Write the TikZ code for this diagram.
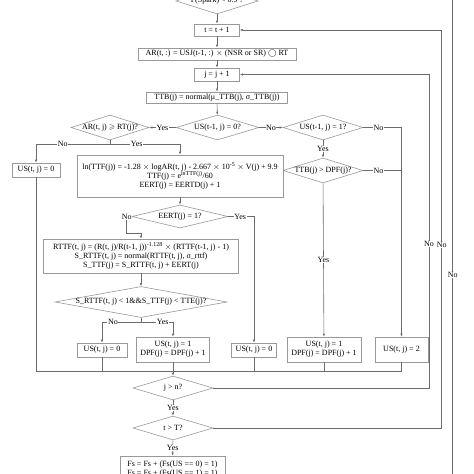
\documentclass[tikz,border=0pt]{standalone}
\usepackage{fontspec}
\setmainfont{Liberation Serif}
\usepackage{amssymb}
\usetikzlibrary{positioning,arrows.meta,shapes.geometric}

\definecolor{linegray}{gray}{0.42}
\definecolor{boxgray}{gray}{0.6}
\newcommand{\flowfont}{\fontsize{8}{9}\selectfont}

\begin{document}
\begin{tikzpicture}[x=1pt, y=-1pt,
    proc/.style={draw=boxgray, fill=white, inner sep=1pt, align=center, font=\flowfont, line width=0.6pt},
    test/.style={diamond, draw=boxgray, fill=white, inner sep=0pt, line width=0.6pt, label={[font=\flowfont]center:#1}},
    flow/.style={draw=linegray, line width=0.6pt, -{Latex[length=3pt, width=2.4pt]}},
    wire/.style={draw=linegray, line width=0.6pt},
    lbl/.style={fill=white, inner sep=0.6pt, font=\flowfont},
]
\useasboundingbox (0,0) rectangle (474,474);
\clip (0,0) rectangle (474,474);

% main column
\node[test={P(Spark) < 0.9 ?}, minimum width=82pt, minimum height=26pt] (spark) at (217,1) {};
\node[proc, minimum width=45pt, minimum height=12pt] (tt) at (217,30) {t = t + 1};
\node[proc, minimum width=158pt, minimum height=12pt] (ar) at (217,54) {AR(t, :) = USJ(t-1, :) $\times$ (NSR or SR) $\bigcirc$ RT};
\node[proc, minimum width=45pt, minimum height=13pt] (jj) at (217,74.5) {j = j + 1};
\node[proc, minimum width=141pt, minimum height=11pt] (ttb) at (217,97.5) {TTB(j) = normal(μ\_TTB(j), σ\_TTB(j))};

% state checks
\node[test={AR(t, j) $\geqslant$ RT(j)?}, minimum width=78pt, minimum height=25pt] (chkrt) at (110,127.5) {};
\node[test={US(t-1, j) = 0?}, minimum width=83pt, minimum height=25pt] (chk0) at (217.5,127.5) {};
\node[test={US(t-1, j) = 1?}, minimum width=80pt, minimum height=25pt] (chk1) at (323,127.5) {};
\node[test={TTB(j) > DPF(j)?}, minimum width=80pt, minimum height=25pt] (chkdpf) at (323,170.5) {};

\node[proc, minimum width=48pt, minimum height=14pt] (usa) at (36,170) {US(t, j) = 0};
\node[proc, minimum width=206pt, minimum height=42pt] (ttf) at (180,176) {ln(TTF(j)) = -1.28 $\times$ logAR(t, j) - 2.667 $\times$ 10\textsuperscript{-5} $\times$ V(j) + 9.9\\ TTF(j) = e\textsuperscript{lnTTF(j)}/60\\ EERT(j) = EERTD(j) + 1};
\node[test={EERT(j) = 1?}, minimum width=96pt, minimum height=23pt] (chkeert) at (180,216.5) {};
\node[proc, minimum width=195pt, minimum height=34pt] (rttf) at (141,256) {RTTF(t, j) = (R(t, j)/R(t-1, j))\textsuperscript{-1.128} $\times$ (RTTF(t-1, j) - 1)\\ S\_RTTF(t, j) = normal(RTTF(t, j), σ\_rttf)\\ S\_TTF(j) = S\_RTTF(t, j) + EERT(j)};
\node[test={S\_RTTF(t, j) < 1\&\&S\_TTF(j) < TTE(j)?}, minimum width=172pt, minimum height=31pt] (chkrisk) at (141,302) {};

% new states
\node[proc, minimum width=50pt, minimum height=14pt] (usb) at (102,350) {US(t, j) = 0};
\node[proc, minimum width=73pt, minimum height=25pt] (usc) at (173,349.5) {US(t, j) = 1\\ DPF(j) = DPF(j) + 1};
\node[proc, minimum width=45pt, minimum height=14pt] (usd) at (254,350) {US(t, j) = 0};
\node[proc, minimum width=74pt, minimum height=25pt] (use) at (324,349.5) {US(t, j) = 1\\ DPF(j) = DPF(j) + 1};
\node[proc, minimum width=53pt, minimum height=25pt] (usf) at (401.5,349.5) {US(t, j) = 2};

\node[test={j > n?}, minimum width=80pt, minimum height=24pt] (chkj) at (173,388) {};
\node[test={t > T?}, minimum width=80pt, minimum height=24pt] (chkt) at (173,428) {};
\node[proc, minimum width=105pt, minimum height=26pt] (fs) at (172.5,469) {Fs = Fs + (Fs(US == 0) = 1)\\ Fs = Fs + (Fs(US == 1) = 1)};

\coordinate (merge) at (173,371);
\coordinate (rdpf) at (401.5,0);
\coordinate (rj) at (429,0);
\coordinate (rt) at (441.7,0);
\coordinate (outtop) at (452.7,0);
\coordinate (outbot) at (452.7,474);

\draw[flow] (spark.south) -- (tt.north);
\draw[flow] (tt) -- (ar);
\draw[flow] (ar) -- (jj);
\draw[flow] (jj) -- (ttb);
\draw[flow] (ttb) -- (chk0);

\draw[flow] (chk0.west) -- node[lbl]{Yes} (chkrt.east);
\draw[flow] (chk0.east) -- node[lbl]{No} (chk1.west);
\draw[flow] (chk1) -- node[lbl]{Yes} (chkdpf);
\draw[wire] (chk1.east) -- node[lbl, pos=0.4]{No} (chk1.east -| rdpf);
\draw[wire] (chkdpf.east) -- node[lbl, pos=0.4]{No} (chkdpf.east -| rdpf);
\draw[flow] (chk1.east -| rdpf) -- (usf.north);
\draw[flow] (chkdpf) -- node[lbl]{Yes} (use);

\draw[wire] (chkrt.south) -- ++(0,4) coordinate (split);
\draw[flow] (split) -| node[lbl, pos=0.32]{No} (usa.north);
\draw[flow] (split) -| node[lbl, pos=0.19]{Yes} (ttf.north);

\draw[flow] (ttf) -- (chkeert);
\draw[flow] (chkeert.west) -- ++(-5,0) node[lbl]{No} -- ++(0,16.5) -| (rttf.north);
\draw[flow] (chkeert.east) -| node[lbl, pos=0.23]{Yes} (usd.north);
\draw[flow] (rttf) -- (chkrisk);
\draw[wire] (chkrisk.south) -- ++(0,4.5) coordinate (split2);
\draw[flow] (split2) -| node[lbl, pos=0.36]{No} (usb.north);
\draw[flow] (split2) -| node[lbl, pos=0.34]{Yes} (usc.north);

% merge into j > n?
\draw[wire] (usa.south) |- (merge);
\draw[wire] (usb.south) -- (usb.south |- merge);
\draw[wire] (usd.south) -- (usd.south |- merge);
\draw[wire] (use.south) -- (use.south |- merge);
\draw[wire] (usf.south) |- (merge);
\draw[flow] (usc.south) -- (chkj.north);

\draw[flow] (chkj) -- node[lbl]{Yes} (chkt);
\draw[flow] (chkt) -- node[lbl]{Yes} (fs);
\draw[flow] (chkj.east) -| node[lbl, pos=0.73]{No} (rj |- jj.east) -- (jj.east);
\draw[flow] (chkt.east) -| node[lbl, pos=0.73]{No} (rt |- tt.east) -- (tt.east);
\draw[wire] (outbot) -- node[lbl, pos=0.42]{No} (outtop);
\end{tikzpicture}
\end{document}
